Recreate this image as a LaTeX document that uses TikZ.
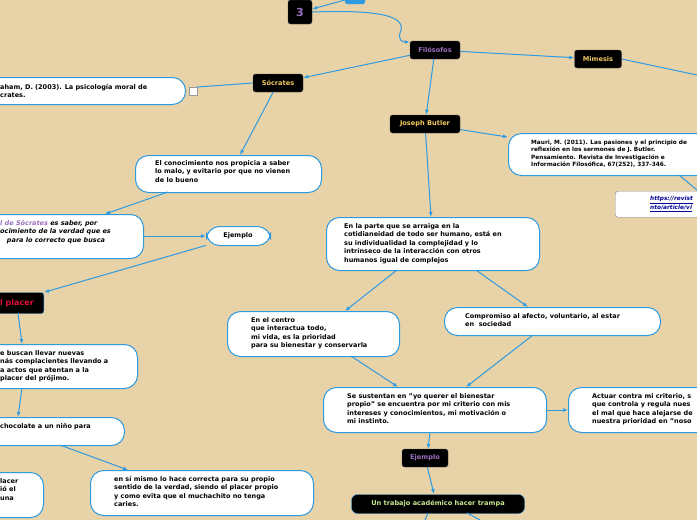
\documentclass[tikz,border=0pt]{standalone}
\usepackage{fontspec}
\setmainfont{DejaVu Sans}
\usetikzlibrary{arrows.meta}
\definecolor{bg}{HTML}{E8D3A8}
\definecolor{ln}{HTML}{2E9AE0}
\definecolor{pur}{HTML}{9B6FC0}
\definecolor{yel}{HTML}{F0C860}
\definecolor{grn}{HTML}{C8E890}
\definecolor{redt}{HTML}{E0103A}
\tikzset{
 wbox/.style={draw=ln,line width=1pt,fill=white,rounded corners=13pt,anchor=north west,inner sep=0pt},
 bbox/.style={fill=black,draw=black!70,rounded corners=2.5pt,font=\bfseries\fontsize{6.6}{8}\selectfont,inner sep=0pt,minimum height=18pt},
 txt/.style={anchor=north west,align=left,inner sep=0pt,font=\bfseries\fontsize{6.5}{8.5}\selectfont},
 con/.style={draw=ln,line width=1pt,-{Latex[length=5pt,width=4pt]}},
 conn/.style={draw=ln,line width=1pt},
}
\newcommand{\wb}[5]{\node[wbox,minimum width=#3pt,minimum height=#4pt] (#5) at (#1,#2) {};}
\begin{document}
\begin{tikzpicture}[x=1pt,y=-1pt]
\fill[bg] (0,0) rectangle (697,520);
\clip (0,0) rectangle (697,520);
% black nodes
\node[bbox,minimum width=24pt,minimum height=24pt,text=pur,font=\bfseries\fontsize{11}{12}\selectfont] (three) at (300,12) {3};
\node[fill=ln,rounded corners=2pt,minimum width=20pt,minimum height=8pt,inner sep=0pt] (top) at (355,0) {};
\node[bbox,minimum width=50pt,text=pur] (fil) at (435,50) {Filósofos};
\node[bbox,minimum width=47pt,text=yel] (mim) at (598,59) {Mimesis};
\node[bbox,minimum width=50pt,text=yel] (soc) at (278,83) {Sócrates};
\node[bbox,minimum width=70pt,text=yel] (but) at (425,124) {Joseph Butler};
\node[bbox,minimum width=46pt,text=pur] (ej2) at (425,458) {Ejemplo};
\node[bbox,minimum width=173pt,minimum height=19pt,text=grn,rounded corners=6pt,draw=ln] (tra) at (438,504) {Un trabajo académico hacer trampa};
\node[bbox,minimum width=70pt,minimum height=21pt,anchor=east,draw=ln] (pla) at (44,303) {};
\node[anchor=west,inner sep=0pt,text=redt,font=\bfseries\fontsize{8}{9}\selectfont] at (0,303) {l placer};
% white boxes
\wb{-60}{77}{245}{27}{gra}
\node[txt] at (0,84) {aham, D. (2003). La psicología moral de\\crates.};
\node[draw=black!40,fill=white,minimum size=8pt,inner sep=0pt] (ico) at (193,91) {};
\wb{-90}{214}{233}{44}{ita}
\node[txt,font=\bfseries\itshape\fontsize{6.5}{8.5}\selectfont] at (0,220) {\textcolor{pur}{l de Sócrates} es saber, por\\ocimiento de la verdad que es\\\ \ \ para lo correcto que busca};
\wb{206}{226}{64}{19}{ej1}
\node[font=\bfseries\fontsize{6.5}{8}\selectfont] at (238,236) {Ejemplo};
\wb{135}{155}{186}{37}{cono}
\node[txt] at (155,160) {El conocimiento nos propicia a saber\\lo malo, y evitario por que no vienen\\de lo bueno};
\wb{508}{133}{220}{42}{mau}
\node[txt,font=\bfseries\fontsize{5.8}{7.3}\selectfont] at (531,140) {Mauri, M. (2011). Las pasiones y el principio de\\reflexión en los sermones de J. Butler.\\Pensamiento. Revista de Investigación e\\Información Filosófica, 67(252), 337-346.};
\node[draw=black!50,fill=white,rounded corners=3pt,minimum width=100pt,minimum height=26pt,anchor=north west,inner sep=0pt] (lnk) at (615,191) {};
\node[txt,font=\bfseries\itshape\fontsize{5.8}{7.3}\selectfont,text=blue!60!black] at (650,196) {\underline{https://revist}\\\underline{nto/article/vi}};
\wb{326}{217}{213}{53}{par}
\node[txt] at (344,223) {En la parte que se arraiga en la\\cotidianeidad de todo ser humano, está en\\su individualidad la complejidad y lo\\intrínseco de la interacción con otros\\humanos igual de complejos};
\wb{227}{311}{172}{45}{cen}
\node[txt] at (251,317) {En el centro\\que interactua todo,\\mi vida, es la prioridad\\para su bienestar y conservarla};
\wb{444}{307}{216}{28}{com}
\node[txt] at (465,313) {Compromiso al afecto, voluntario, al estar\\en\ \ sociedad};
\wb{323}{387}{223}{45}{sus}
\node[txt] at (347,393) {Se sustentan en "yo querer el bienestar\\propio" se encuentra por mi criterio con mis\\intereses y conocimientos, mi motivación o\\mi instinto.};
\wb{568}{387}{200}{45}{act}
\node[txt] at (592,393) {Actuar contra mi criterio, s\\que controla y regula nues\\el mal que hace alejarse de\\nuestra prioridad en "noso};
\wb{-100}{344}{237}{44}{bus}
\node[txt] at (0,350) {e buscan llevar nuevas\\nás complacientes llevando a\\a actos que atentan a la\\placer del prójimo.};
\wb{-100}{417}{224}{28}{cho}
\node[txt] at (0,423) {chocolate a un niño para};
\wb{-100}{472}{143}{45}{lac}
\node[txt] at (0,478) {lacer\\ió el\\una};
\wb{90}{470}{223}{45}{mis}
\node[txt] at (114,476) {en sí mismo lo hace correcta para su propio\\sentido de la verdad, siendo el placer propio\\y como evita que el muchachito no tenga\\caries.};
% connectors
\draw[con] (top.west) -- (three.east |- 0,9);
\draw[con] (three.east |- 0,12) .. controls (370,10) and (405,14) .. (401,30) .. controls (397,40) and (402,42) .. (fil.west |- 0,42);
\draw[con] (fil) -- (soc);
\draw[con] (fil) -- (mim);
\draw[con] (fil) -- (but);
\draw[conn] (mim.east) -- (697,75);
\draw[conn] (soc.west) -- (ico.east |- 0,87);
\draw[con] (soc) -- (240,155);
\draw[con] (168,192) -- (105,214);
\draw[con] (ita.east |- 0,236) -- (ej1.west);
\draw[con] (ej1) -- (pla.north east);
\draw[con] (18,313) -- (22,344);
\draw[con] (22,388) -- (18,417);
\draw[con] (60,445) -- (128,470);
\draw[con] (but) -- (mau);
\draw[con] (but) -- (431,217);
\draw[conn] (mau.south east |- 0,175) ++(-50,0) -- (697,190);
\draw[con] (397,270) -- (345,311);
\draw[con] (476,270) -- (528,307);
\draw[con] (351,356) -- (398,387);
\draw[con] (533,335) -- (466,387);
\draw[con] (sus) -- (act);
\draw[con] (430,432) -- (428,449);
\draw[con] (ej2) -- (434,494);
\draw[conn] (428,513) -- (425,520);
\draw[conn] (467,513) -- (480,520);
\end{tikzpicture}
\end{document}
